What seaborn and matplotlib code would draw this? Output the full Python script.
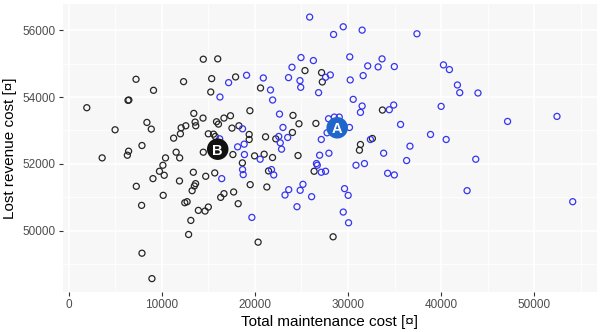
import matplotlib
matplotlib.use("Agg")
import matplotlib.pyplot as plt
from matplotlib.ticker import FixedLocator, MultipleLocator
import pandas as pd
import seaborn as sns

# Group 1 (black): maintenance cost vs lost revenue cost
black_x = [1930, 3580, 4970, 6360, 6450, 6420, 6290, 7220, 7860, 8390,
           7250, 7820, 7860, 8860, 9100, 8930, 9040, 9740, 10110, 10140,
           10250, 10390, 11260, 11530, 11910, 11990, 12070, 12570, 12330, 11890,
           12460, 12710, 12870, 13110, 13380, 13620, 13490, 13250, 13430, 13570,
           13640, 14450, 16000, 15350, 15250, 17920, 14420, 15870, 16080, 16670,
           17370, 17530, 14990, 15550, 15740, 14450, 17630, 18280, 13920, 14640,
           14990, 14710, 15680, 16320, 16670, 17710, 18200, 18650, 19490, 20340,
           21280, 21460, 20600, 19460, 24090, 24730, 26550, 24030, 22240, 21140,
           19380, 19380, 24630, 21890, 20990, 19960, 25380, 27160, 27240, 33700,
           32620, 31340, 31230, 26360, 28400]
black_y = [53680, 52180, 53020, 53900, 53910, 52380, 52260, 54530, 52550, 53240,
           51330, 50760, 49330, 53040, 54200, 48570, 51560, 51780, 51960, 51060,
           51660, 52180, 52770, 52350, 52180, 52900, 53080, 53140, 54460, 51490,
           50840, 50870, 49890, 50310, 51750, 51410, 51340, 51200, 53510, 53250,
           53140, 55130, 55140, 54550, 54150, 54600, 53370, 53260, 53190, 53370,
           53440, 53070, 52900, 52890, 52820, 52350, 52280, 53140, 50610, 50590,
           50710, 51630, 51730, 51000, 51110, 51160, 50810, 52030, 51380, 49660,
           51310, 51790, 54270, 53590, 53450, 53200, 53210, 52940, 52750, 52810,
           52880, 52730, 52250, 52190, 52290, 52240, 54790, 54730, 54450, 53610,
           52760, 52580, 52410, 51780, 49820]

# Group 2 (blue)
blue_x = [25880, 28450, 29490, 31520, 30190, 33660, 33240, 32120, 30240, 31630,
          30560, 31520, 31340, 34440, 30160, 32410, 33830, 30860, 31770, 26700,
          24950, 26280, 23980, 23610, 24840, 24920, 27590, 28100, 26840, 20900,
          21670, 21900, 19100, 17170, 16240, 22640, 23010, 27910, 28530, 29060,
          23520, 22560, 22720, 22860, 18670, 18140, 18840, 18870, 20560, 27130,
          27750, 26950, 27950, 16210, 16430, 18670, 18740, 21780, 22020, 23230,
          23630, 24860, 25160, 24520, 26090, 26610, 27130, 27590, 19670, 29630,
          30020, 29490, 30060, 34260, 34980, 37410, 34980, 40260, 40900, 41760,
          42010, 43970, 34910, 40010, 35650, 47150, 52460, 38870, 40550, 36660,
          36300, 43730, 42800, 54150]
blue_y = [56390, 55870, 56100, 56000, 55200, 55140, 54900, 54930, 54510, 54640,
          53930, 53730, 53540, 53620, 53090, 52730, 52320, 51960, 52010, 51960,
          55180, 55090, 54890, 54580, 54490, 54290, 54590, 54660, 54130, 54570,
          54210, 53910, 54650, 54430, 54000, 53490, 53090, 53350, 53400, 53400,
          52790, 52820, 52630, 52440, 53050, 52510, 52590, 52280, 52140, 52730,
          52930, 52260, 52320, 52750, 51560, 51830, 51680, 51830, 51670, 51070,
          51230, 51210, 51390, 50720, 51020, 52010, 51750, 51780, 50400, 51260,
          51060, 50560, 50240, 51720, 51670, 55890, 54910, 54960, 54820, 54360,
          54130, 54120, 53760, 53720, 53180, 53270, 53420, 52880, 52730, 52530,
          52100, 52140, 51200, 50870]

# Group badges
badge_names = ["A", "B"]
badge_x = [28840, 16000]
badge_y = [53080, 52440]
badge_colors = ["#1f66cc", "#111111"]

x_ticks = [0, 10000, 20000, 30000, 40000, 50000]
y_ticks = [50000, 52000, 54000, 56000]
x_title = "Total maintenance cost [¤]"
y_title = "Lost revenue cost [¤]"

sns.set_theme(style="white")
plt.rcParams["font.family"] = ["Liberation Sans", "DejaVu Sans"]

points = pd.concat([
    pd.DataFrame({"maint": black_x, "lost": black_y, "group": "black"}),
    pd.DataFrame({"maint": blue_x, "lost": blue_y, "group": "blue"}),
], ignore_index=True)
group_colors = {"black": "#262626", "blue": "#3535f0"}

fig = plt.figure(figsize=(6, 3.32), dpi=100)
ax = fig.add_axes([62.5 / 600, 40.3 / 332, (597 - 62.5) / 600, 287.7 / 332])
ax.set_facecolor("#f7f7f7")

for grp, col in group_colors.items():
    sub = points[points["group"] == grp]
    sns.scatterplot(data=sub, x="maint", y="lost", ax=ax, s=19,
                    marker="o", linewidth=0.9, legend=False, zorder=3)
    coll = ax.collections[-1]
    coll.set_facecolor("none")
    coll.set_edgecolor(col)

badges = pd.DataFrame({"x": badge_x, "y": badge_y, "name": badge_names})
sns.scatterplot(data=badges, x="x", y="y", hue="name",
                palette=dict(zip(badge_names, badge_colors)),
                s=240, linewidth=0, legend=False, ax=ax, zorder=4)
for name, bx, by in zip(badge_names, badge_x, badge_y):
    ax.text(bx, by, name, color="white", fontsize=10.5, fontweight="bold",
            ha="center", va="center_baseline", zorder=5)

# 5% expansion on both scales
all_x = black_x + blue_x
all_y = black_y + blue_y
xr = max(all_x) - min(all_x)
yr = max(all_y) - min(all_y)
ax.set_xlim(min(all_x) - 0.05 * xr, max(all_x) + 0.05 * xr)
ax.set_ylim(min(all_y) - 0.05 * yr, max(all_y) + 0.05 * yr)

ax.xaxis.set_major_locator(FixedLocator(x_ticks))
ax.yaxis.set_major_locator(FixedLocator(y_ticks))
ax.set_xticklabels([str(t) for t in x_ticks])
ax.set_yticklabels([str(t) for t in y_ticks])
ax.xaxis.set_minor_locator(MultipleLocator(5000))
ax.yaxis.set_minor_locator(MultipleLocator(1000))
ax.grid(which="major", color="white", linewidth=1.1, zorder=0)
ax.grid(which="minor", color="white", linewidth=0.55, zorder=0)
ax.set_axisbelow(True)
for sp in ax.spines.values():
    sp.set_visible(False)

ax.tick_params(which="major", length=3, width=0.8, color="#333333",
               labelcolor="#4d4d4d", labelsize=8.5, pad=2,
               bottom=True, left=True)
ax.tick_params(which="minor", length=0)
ax.set_xlabel(x_title, fontsize=11, color="black", labelpad=3)
ax.set_ylabel(y_title, fontsize=11, color="black", labelpad=4)

fig.savefig("out.png", dpi=100)
